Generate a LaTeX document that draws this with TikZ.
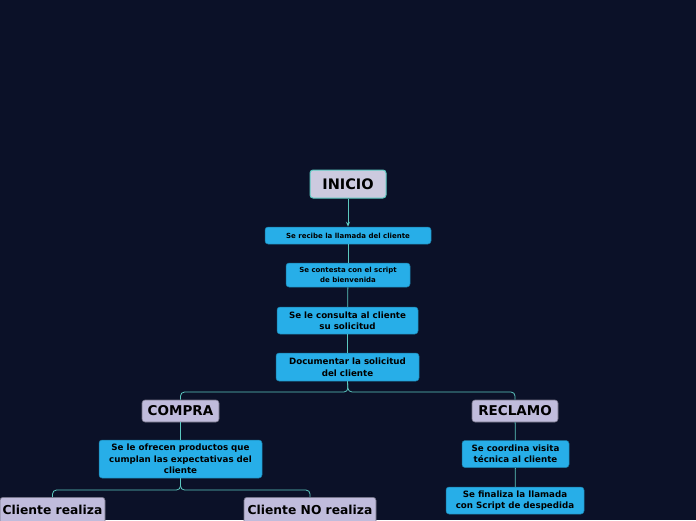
\documentclass[tikz,border=0pt]{standalone}
\usepackage{fontspec}
\setmainfont{DejaVu Sans}
\usetikzlibrary{arrows.meta}
\begin{document}
\begin{tikzpicture}[x=1pt,y=-1pt,
 base/.style={rounded corners=3pt,align=center,font=\bfseries,inner sep=0pt,text=black},
 blue/.style={base,fill=bluef,draw=bluef!70!black,line width=0.5pt},
 lav/.style={base,fill=lavf,draw=lavf!60!black,line width=0.6pt},
 conn/.style={draw=lnc,line width=0.8pt,rounded corners=4pt}]
\definecolor{bg}{HTML}{0B1128}
\definecolor{bluef}{HTML}{27AEE8}
\definecolor{lavf}{HTML}{C0BCDC}
\definecolor{lnc}{HTML}{5CC8C0}
\fill[bg] (0,0) rectangle (696,520);
\useasboundingbox (0,0) rectangle (696,520);
\begin{scope}
\clip (0,0) rectangle (696,520);
\node[base,fill=black!5!lavf!70!white,draw=lnc,line width=1pt,minimum width=76pt,minimum height=28pt,font=\bfseries\fontsize{14.5}{17}\selectfont] (ini) at (348,184) {INICIO};
\node[blue,minimum width=166pt,minimum height=17pt,font=\bfseries\fontsize{7}{8.5}\selectfont] (rec) at (348,235.5) {Se recibe la llamada del cliente};
\node[blue,minimum width=124pt,minimum height=24pt,font=\bfseries\fontsize{7}{9.5}\selectfont] (con) at (348,275) {Se contesta con el script\\de bienvenida};
\node[blue,minimum width=141pt,minimum height=27pt,font=\bfseries\fontsize{8.7}{11.5}\selectfont] (cons) at (347.5,320.5) {Se le consulta al cliente\\su solicitud};
\node[blue,minimum width=143pt,minimum height=28pt,font=\bfseries\fontsize{8.7}{11.5}\selectfont] (doc) at (347.5,367) {Documentar la solicitud\\del cliente};
\node[lav,minimum width=77pt,minimum height=22pt,font=\bfseries\fontsize{13.5}{16}\selectfont] (comp) at (180.5,411) {COMPRA};
\node[lav,minimum width=86pt,minimum height=22pt,font=\bfseries\fontsize{13.5}{16}\selectfont] (recl) at (515,411) {RECLAMO};
\node[blue,minimum width=163pt,minimum height=38pt,font=\bfseries\fontsize{8.7}{11.3}\selectfont] (ofr) at (180.5,459) {Se le ofrecen productos que\\cumplan las expectativas del\\cliente};
\node[blue,minimum width=107pt,minimum height=27pt,font=\bfseries\fontsize{8.7}{11.3}\selectfont] (coo) at (515.5,454) {Se coordina visita\\técnica al cliente};
\node[blue,minimum width=138pt,minimum height=27pt,font=\bfseries\fontsize{8.7}{11.3}\selectfont] (fin) at (515,500.5) {Se finaliza la llamada\\con Script de despedida};
\node[lav,minimum width=105pt,minimum height=44pt,anchor=north,font=\bfseries\fontsize{12.3}{16}\selectfont] (cr) at (52.5,497) {Cliente realiza\\compra};
\node[lav,minimum width=132pt,minimum height=44pt,anchor=north,font=\bfseries\fontsize{12.3}{16}\selectfont] (cnr) at (310,497) {Cliente NO realiza\\compra};
\draw[conn,-{Stealth[length=5pt,width=4pt]}] (ini) -- (rec);
\draw[conn] (rec) -- (con);
\draw[conn] (con) -- (cons);
\draw[conn] (cons) -- (doc);
\draw[conn] (doc.south) -- (348,392) -| (comp.north);
\draw[conn] (doc.south) -- (348,392) -| (recl.north);
\draw[conn] (comp) -- (ofr);
\draw[conn] (recl) -- (coo);
\draw[conn] (coo) -- (fin);
\draw[conn] (ofr.south) -- (180.5,490) -| (cr.north);
\draw[conn] (ofr.south) -- (180.5,490) -| (cnr.north);
\end{scope}
\end{tikzpicture}
\end{document}
